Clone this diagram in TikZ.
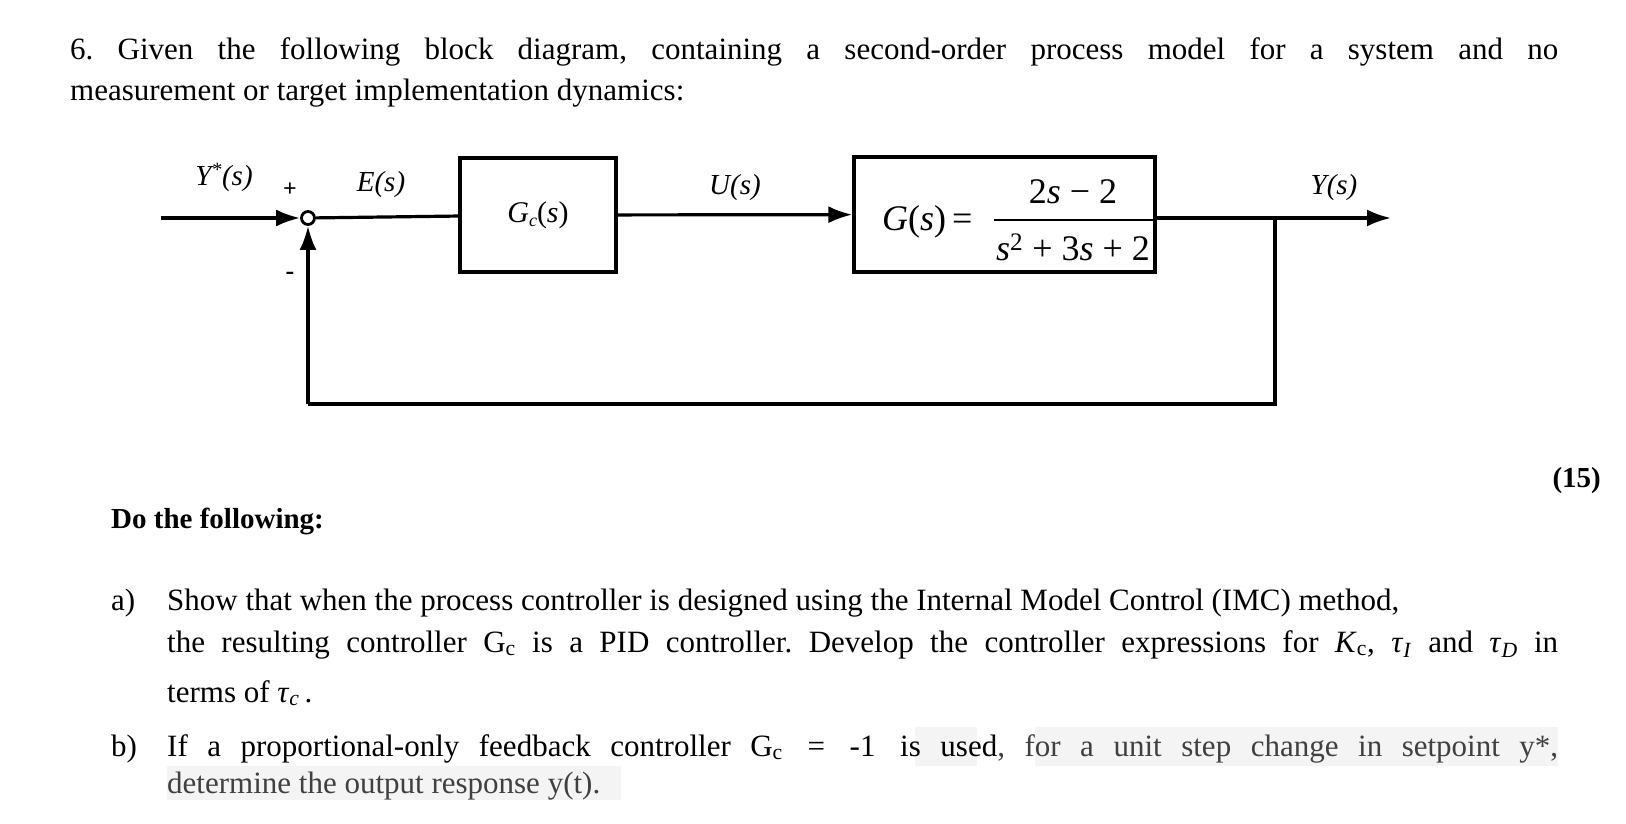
\documentclass[tikz,border=0pt]{standalone}
\usepackage{fontspec}
\setmainfont{Liberation Serif}
\usetikzlibrary{arrows.meta}
\definecolor{bgshade}{HTML}{F4F4F4}
\definecolor{grytxt}{HTML}{404040}
\newcommand{\mytau}[1]{\textit{τ}\textsubscript{\textit{#1}}}
\begin{document}
\frenchspacing
\begin{tikzpicture}[x=1pt,y=-1pt,
  body/.style={font=\fontsize{31}{36}\selectfont, anchor=base west, inner sep=0},
  lbl/.style={font=\fontsize{29}{34}\selectfont\itshape, inner sep=0},
  blk/.style={draw, line width=3.2pt, inner sep=0},
  sig/.style={line width=3.2pt},
  arr/.style={sig, -{Latex[length=24pt,width=17pt]}}]
\useasboundingbox (0,0) rectangle (1626,824);
\fill[white] (0,0) rectangle (1626,824);
% header text
\node[body] (l1) at (70,60) {\makebox[1488pt][s]{6. Given the following block diagram, containing a second-order process model for a system and no}};
\node[body] (l2) at (70,101) {measurement or target implementation dynamics:};
% diagram
\coordinate (in) at (161,218);
\node[circle, draw, line width=2.8pt, minimum size=13pt, inner sep=0] (sum) at (308,218) {};
\node[blk, minimum width=156pt, minimum height=114pt] (gc) at (538,215) {};
\node[inner sep=0, font=\fontsize{30}{34}\selectfont] (gct) at (gc) {\textit{G}\raisebox{-4pt}{\fontsize{18}{20}\selectfont\textit{c}}(\textit{s})};
\node[blk, minimum width=301pt, minimum height=115pt] (g) at (1004.5,214.5) {};
\node[inner sep=0, anchor=west, font=\fontsize{36}{40}\selectfont] (gtxt) at (882,222) {\textit{G}(\textit{s})\,=};
\draw[line width=1.6pt] (994,220) -- (1153,220);
\node[inner sep=0, anchor=base, font=\fontsize{36}{40}\selectfont] (num) at (1073,204) {2\textit{s} − 2};
\node[inner sep=0, anchor=base, font=\fontsize{36}{40}\selectfont] (den) at (1073,260) {\textit{s}\textsuperscript{2} + 3\textit{s} + 2};
\coordinate (br) at (1275,218);
\coordinate (out) at (1391,218);
\coordinate (fb1) at (1275,404);
\coordinate (fb2) at (308,404);
\draw[arr] (in) -- (sum);
\draw[sig] (sum) -- (gc);
\draw[arr] (gc) -- (g);
\draw[arr] (g.east |- br) -- (out);
\draw[sig] (br) -- (fb1) -- (fb2);
\draw[arr] (fb2) -- (sum);
\node[lbl] (ys) at (224,177) {Y\textsuperscript{*}(s)};
\node[lbl, font=\bfseries\fontsize{24}{24}\selectfont] (plus) at (290,190) {+};
\node[lbl, font=\bfseries\fontsize{26}{24}\selectfont] (minus) at (290,276) {-};
\node[lbl] (es) at (381,185) {E(s)};
\node[lbl] (us) at (735,188) {U(s)};
\node[lbl] (yo) at (1334,188) {Y(s)};
% (15)
\node[body, font=\bfseries\fontsize{29}{34}\selectfont, anchor=base east] (pts) at (1601,487) {(15)};
\node[body, font=\bfseries\fontsize{29}{34}\selectfont] (do) at (111,528) {Do the following:};
% a)
\node[body] (a) at (111,610) {a)};
\node[body] (a1) at (167,610) {Show that when the process controller is designed using the Internal Model Control (IMC) method,};
\node[body] (a2) at (167,652) {\makebox[1391pt][s]{the resulting controller G\textsubscript{c} is a PID controller. Develop the controller expressions for \textit{K}\textsubscript{c}, \mytau{I} and \mytau{D} in}};
\node[body] (a3) at (167,702) {terms of \mytau{c}\,.};
% b)
\fill[bgshade] (915,727) rectangle (977,766);
\fill[bgshade] (1035,727) rectangle (1558,766);
\fill[bgshade] (167,766) rectangle (621,800);
\node[body] (b) at (111,756) {b)};
\node[body] (b1) at (167,756) {\makebox[1391pt][s]{If a proportional-only feedback controller G\textsubscript{c} \,=\, -1 \,is used{\color{grytxt}, for a unit step change in setpoint y*,}}};
\node[body, text=grytxt] (b2) at (167,793) {determine the output response y(t).};
\end{tikzpicture}
\end{document}
